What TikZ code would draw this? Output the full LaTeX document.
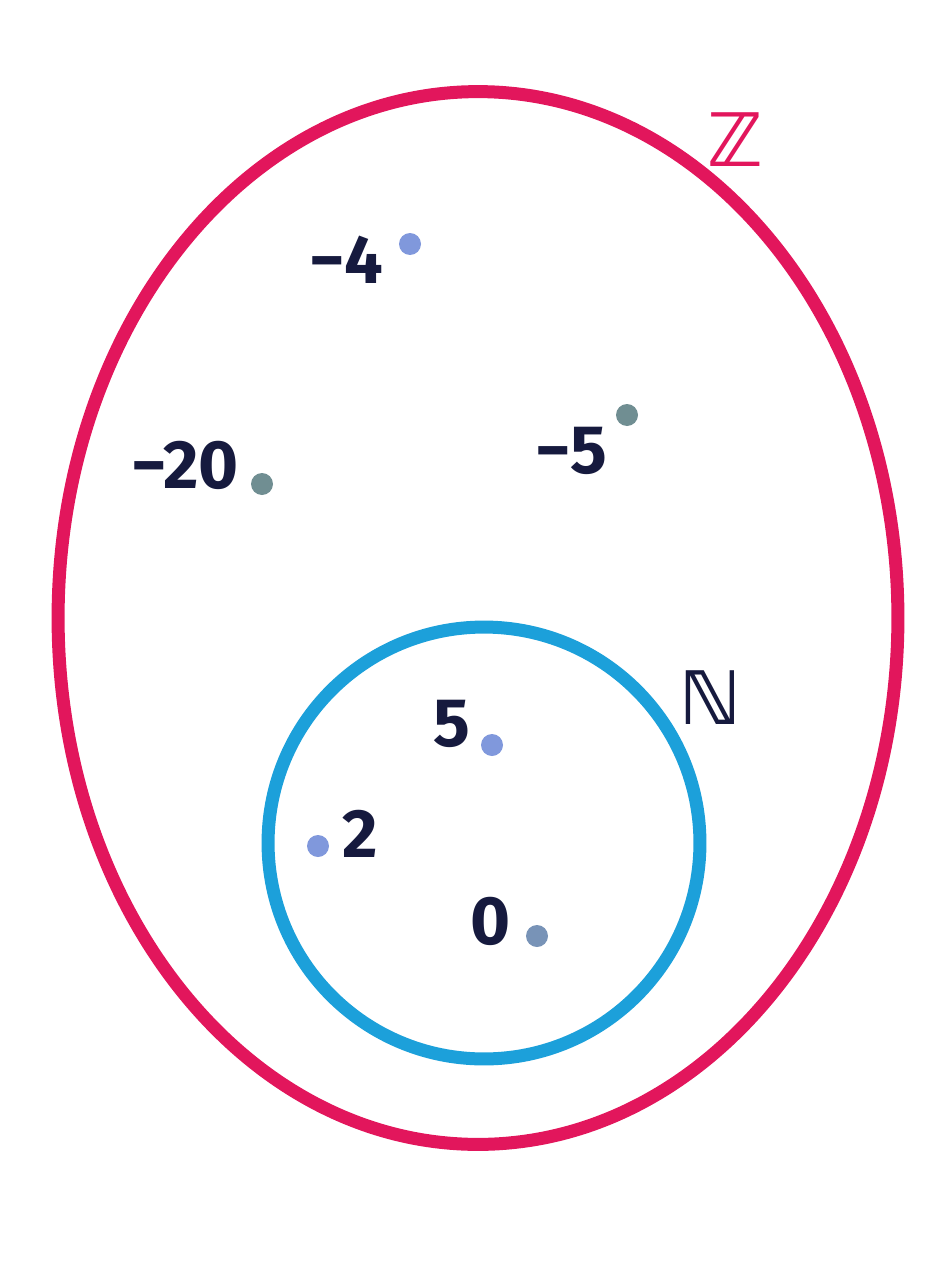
\documentclass[tikz,border=0pt]{standalone}
\usepackage{fontspec}
\setmainfont{Fira Sans}
\newfontfamily\bbfont{DejaVu Sans}
\definecolor{zcol}{RGB}{226,22,92}
\definecolor{ncol}{RGB}{28,160,218}
\definecolor{numcol}{RGB}{22,26,62}
\definecolor{dotblue}{RGB}{128,152,220}
\definecolor{dotgrey}{RGB}{112,142,146}
\tikzset{
  num/.style={text=numcol,font=\fontsize{39}{41}\selectfont\bfseries,inner sep=0pt},
  dot/.style={circle,fill=#1,minimum size=0.44cm,inner sep=0pt},
  setname/.style={font=\fontsize{42}{44}\selectfont\bbfont\bfseries,inner sep=0pt}
}
\begin{document}
\begin{tikzpicture}[x=0.02cm,y=-0.02cm]
\useasboundingbox (0,0) rectangle (952,1261);

\draw[zcol,line width=0.26cm] (478,618) ellipse [x radius=8.4cm,y radius=10.53cm];
\draw[ncol,line width=0.26cm] (484,843) circle [radius=4.32cm];

\node at (735,140) [setname,text=zcol] (zset) {ℤ};
\node at (710,698) [setname,text=numcol] (nset) {ℕ};

\node at (410,244) [dot=dotblue] (dmfour) {};
\node at (346,260) [num] (mfour) {−4};

\node at (262,484) [dot=dotgrey] (dmtwenty) {};
\node at (185,465) [num] (mtwenty) {−20};

\node at (627,415) [dot=dotgrey] (dmfive) {};
\node at (571,451) [num] (mfive) {−5};

\node at (492,745) [dot=dotblue] (dfive) {};
\node at (452,724) [num] (five) {5};

\node at (318,846) [dot=dotblue] (dtwo) {};
\node at (360,834) [num] (two) {2};

\node at (537,936) [dot=dotgrey!50!dotblue] (dzero) {};
\node at (491,921) [num] (zero) {0};
\end{tikzpicture}
\end{document}
